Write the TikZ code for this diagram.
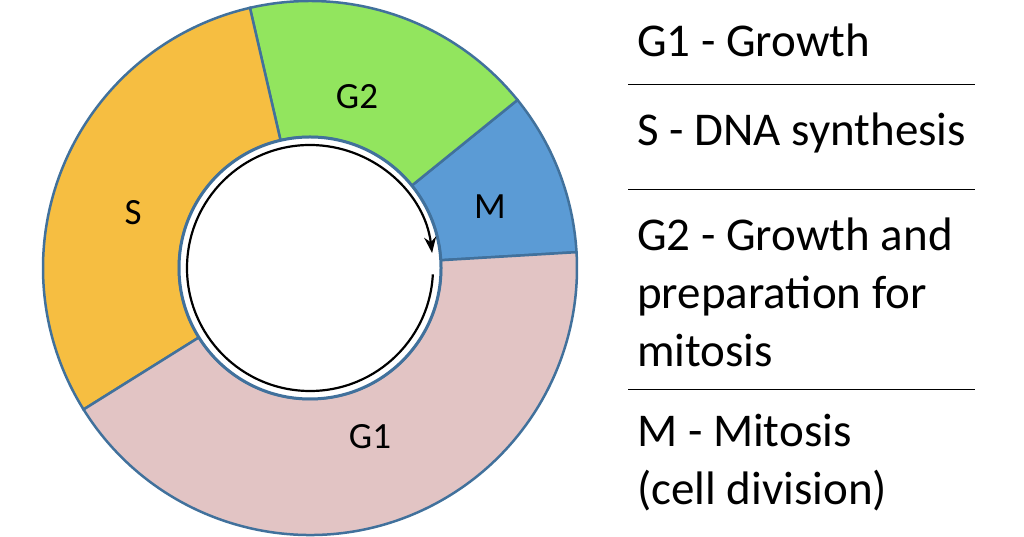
\documentclass[tikz,border=0pt]{standalone}
\usepackage{fontspec}
\setmainfont{Carlito}
\usetikzlibrary{arrows.meta}
\begin{document}
\begin{tikzpicture}[x=1pt,y=1pt,
  seg/.style={draw=segblue,line width=2.5pt},
  lbl/.style={font=\fontsize{37}{44}\selectfont},
  rt/.style={font=\fontsize{47}{58}\selectfont,anchor=west,align=left,inner sep=0pt}]
\definecolor{segblue}{HTML}{41719C}
\definecolor{cS}{HTML}{F6BE41}
\definecolor{cG}{HTML}{92E55E}
\definecolor{cM}{HTML}{5B9BD5}
\definecolor{cP}{HTML}{E2C4C4}
\useasboundingbox (0,0) rectangle (1024,537);
\coordinate (c) at (310,269);
\begin{scope}[shift={(310,269)}]
\newcommand{\sector}[3]{\filldraw[seg,fill=#3] (#1:267) arc[start angle=#1,end angle=#2,radius=267] -- (#2:131) arc[start angle=#2,end angle=#1,radius=131] -- cycle;}
\sector{3.4}{39}{cM}
\sector{39}{103}{cG}
\sector{103}{212}{cS}
\sector{212}{363.4}{cP}
\draw[draw=segblue,line width=3pt,fill=white] (0,0) circle[radius=131];
\draw[line width=2.2pt,-{Stealth[length=16pt,width=12pt]}] (-3:123) arc[start angle=-3,end angle=-353,radius=123];
\end{scope}
\node[lbl] (g2) at (357,440) {G2};
\node[lbl] (s) at (133,324) {S};
\node[lbl] (m) at (490,330) {M};
\node[lbl] (g1) at (370,100) {G1};
\node[rt] (t1) at (637,497) {G1 - Growth};
\node[rt] (t2) at (637,404) {S - DNA synthesis};
\node[rt] (t3) at (637,245) {G2 - Growth and\\preparation for\\mitosis};
\node[rt] (t4) at (637,74) {M - Mitosis\\(cell division)};
\coordinate (l1a) at (628,452); \coordinate (l1b) at (975,452);
\coordinate (l2a) at (628,347); \coordinate (l2b) at (975,347);
\coordinate (l3a) at (628,147); \coordinate (l3b) at (975,147);
\draw[line width=1pt] (l1a)--(l1b) (l2a)--(l2b) (l3a)--(l3b);
\end{tikzpicture}
\end{document}
